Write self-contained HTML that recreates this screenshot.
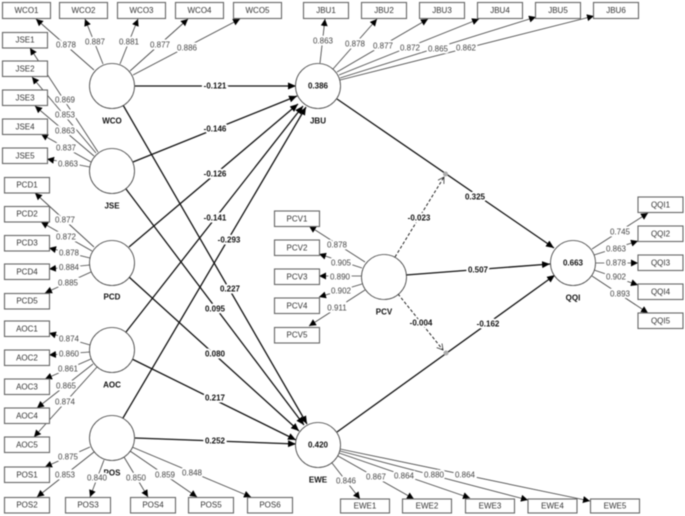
<!DOCTYPE html>
<html><head><meta charset="utf-8"><style>
html,body{margin:0;padding:0;background:#fff;width:685px;height:516px;overflow:hidden}
svg{display:block;filter:blur(.4px)}
text{font-family:"Liberation Sans",sans-serif;font-size:8px;text-anchor:middle;dominant-baseline:central}
.o line{stroke:#444;stroke-width:.85;marker-end:url(#a)}
.s line{stroke:#111;stroke-width:1.3;marker-end:url(#b)}
.d line{stroke:#222;stroke-width:1;stroke-dasharray:3 2;marker-end:url(#c)}
.r rect{fill:#fff;stroke:#666;stroke-width:1.1}
.r text{fill:#333}
circle{fill:#fff;stroke:#444;stroke-width:.85}
.l text{fill:#444;stroke:#fff;stroke-width:4;paint-order:stroke}
.p text{fill:#111;font-weight:bold;stroke:#fff;stroke-width:4;paint-order:stroke}
.n text{fill:#111;font-weight:bold}
</style></head><body>
<svg width="685" height="516" viewBox="0 0 685 516" xmlns="http://www.w3.org/2000/svg">
<defs>
<marker id="a" markerUnits="userSpaceOnUse" markerWidth="8" markerHeight="8" refX="7" refY="3.5" orient="auto"><path d="M0 0L7 3.500L0 7z" fill="#000"/></marker>
<marker id="b" markerUnits="userSpaceOnUse" markerWidth="9" markerHeight="8" refX="8" refY="3.5" orient="auto"><path d="M0 0L8 3.5L0 7z" fill="#000"/></marker>
<marker id="c" markerUnits="userSpaceOnUse" markerWidth="8" markerHeight="8" refX="6" refY="3.5" orient="auto"><path d="M0 0L6 3.5L0 7" fill="none" stroke="#333" stroke-width=".8"/></marker>
</defs>

<g class="o">
<line x1="94" y1="70" x2="36" y2="19"/><line x1="103" y1="64" x2="85" y2="19"/><line x1="120" y1="64" x2="138" y2="19"/><line x1="130" y1="71" x2="188" y2="19"/><line x1="133" y1="75" x2="240" y2="19"/>
<line x1="98" y1="152" x2="30" y2="48"/><line x1="96" y1="153" x2="32" y2="77"/><line x1="94" y1="156" x2="35" y2="106"/><line x1="91" y1="162" x2="41" y2="134"/><line x1="90" y1="167" x2="47" y2="159"/>
<line x1="94" y1="247" x2="35" y2="193"/><line x1="92" y1="251" x2="41" y2="222"/><line x1="90" y1="258" x2="49" y2="248"/><line x1="90" y1="265" x2="49" y2="269"/><line x1="91" y1="272" x2="45" y2="293"/>
<line x1="90" y1="345" x2="49" y2="333"/><line x1="90" y1="352" x2="49" y2="355"/><line x1="91" y1="359" x2="45" y2="379"/><line x1="93" y1="364" x2="37" y2="408"/><line x1="97" y1="367" x2="34" y2="437"/>
<line x1="90" y1="447" x2="45" y2="467"/><line x1="94" y1="452" x2="37" y2="497"/><line x1="104" y1="460" x2="90" y2="497"/><line x1="124" y1="457" x2="148" y2="497"/><line x1="130" y1="451" x2="197" y2="497"/><line x1="132" y1="447" x2="251" y2="497"/>
<line x1="320" y1="63" x2="325" y2="19"/><line x1="333" y1="69" x2="377" y2="19"/><line x1="337" y1="72" x2="428" y2="19"/><line x1="339" y1="75" x2="479" y2="19"/><line x1="340" y1="78" x2="536" y2="17"/><line x1="340" y1="80" x2="594" y2="16"/>
<line x1="332" y1="463" x2="360" y2="499"/><line x1="338" y1="456" x2="414" y2="499"/><line x1="339" y1="453" x2="470" y2="498"/><line x1="340" y1="451" x2="528" y2="500"/><line x1="340" y1="449" x2="590" y2="501"/>
<line x1="365" y1="262" x2="309" y2="226"/><line x1="362" y1="268" x2="319" y2="254"/><line x1="361" y1="276" x2="319" y2="276"/><line x1="362" y1="284" x2="319" y2="297"/><line x1="365" y1="290" x2="309" y2="326"/>
<line x1="592" y1="249" x2="648" y2="213"/><line x1="594" y1="255" x2="638" y2="241"/><line x1="596" y1="263" x2="638" y2="263"/><line x1="594" y1="270" x2="638" y2="285"/><line x1="592" y1="276" x2="648" y2="313"/>
</g>

<g class="s">
<line x1="135" y1="86" x2="296" y2="86"/><line x1="133" y1="162" x2="297" y2="96"/><line x1="129" y1="247" x2="298" y2="104"/><line x1="126" y1="332" x2="303" y2="106"/><line x1="123" y1="418" x2="306" y2="107"/>
<line x1="123" y1="105" x2="307" y2="424"/><line x1="126" y1="189" x2="304" y2="425"/><line x1="129" y1="277" x2="299" y2="431"/><line x1="132" y1="359" x2="296" y2="440"/><line x1="135" y1="438" x2="296" y2="444"/>
<line x1="337" y1="99" x2="554" y2="248"/><line x1="406" y1="275" x2="550" y2="264"/><line x1="337" y1="432" x2="555" y2="275"/>
</g>

<circle cx="445.5" cy="174" r="2.5" style="fill:#aaa;stroke:none"/>
<circle cx="446" cy="353" r="2.5" style="fill:#aaa;stroke:none"/>
<g class="d">
<line x1="395" y1="257" x2="444" y2="177"/><line x1="398" y1="294" x2="443" y2="350"/>
</g>

<g class="r">
<rect x="2.5" y="2.5" width="48" height="16"/><text x="26.500" y="10.500">WCO1</text>
<rect x="59.5" y="2.5" width="48" height="16"/><text x="83.500" y="10.500">WCO2</text>
<rect x="117.5" y="2.5" width="48" height="16"/><text x="141.500" y="10.500">WCO3</text>
<rect x="175.5" y="2.5" width="48" height="16"/><text x="199.500" y="10.500">WCO4</text>
<rect x="233.5" y="2.5" width="48" height="16"/><text x="257.500" y="10.500">WCO5</text>
<rect x="2.5" y="32.5" width="45" height="15.500"/><text x="25" y="40">JSE1</text>
<rect x="2.5" y="61" width="45" height="15.500"/><text x="25" y="69">JSE2</text>
<rect x="2.5" y="90" width="45" height="15.500"/><text x="25" y="98">JSE3</text>
<rect x="2.5" y="119" width="45" height="15.500"/><text x="25" y="127">JSE4</text>
<rect x="2.5" y="148" width="45" height="15.500"/><text x="25" y="156">JSE5</text>
<rect x="4.5" y="177.500" width="45" height="15.500"/><text x="27" y="185">PCD1</text>
<rect x="4.5" y="206.500" width="45" height="15.500"/><text x="27" y="214">PCD2</text>
<rect x="4.5" y="235.500" width="45" height="15.500"/><text x="27" y="243">PCD3</text>
<rect x="4.5" y="264" width="45" height="15.500"/><text x="27" y="272">PCD4</text>
<rect x="4.5" y="293.500" width="45" height="15.500"/><text x="27" y="301">PCD5</text>
<rect x="4.5" y="321" width="45" height="15.500"/><text x="27" y="329">AOC1</text>
<rect x="4.5" y="350" width="45" height="15.500"/><text x="27" y="358">AOC2</text>
<rect x="4.5" y="379" width="45" height="15.500"/><text x="27" y="387">AOC3</text>
<rect x="4.5" y="408" width="45" height="15.500"/><text x="27" y="416">AOC4</text>
<rect x="4.5" y="437" width="45" height="15.500"/><text x="27" y="445">AOC5</text>
<rect x="4.5" y="467" width="45" height="15.500"/><text x="27" y="475">POS1</text>
<rect x="4.5" y="497.500" width="45" height="15.500"/><text x="27" y="505">POS2</text>
<rect x="65.5" y="497.500" width="45" height="15.500"/><text x="88" y="505">POS3</text>
<rect x="130.5" y="497.500" width="45" height="15.500"/><text x="153" y="505">POS4</text>
<rect x="188.5" y="497.500" width="45" height="15.500"/><text x="211" y="505">POS5</text>
<rect x="247.5" y="497.500" width="45" height="15.500"/><text x="270" y="505">POS6</text>
<rect x="303.5" y="2.5" width="45" height="16"/><text x="326" y="10.500">JBU1</text>
<rect x="361.5" y="2.5" width="45" height="16"/><text x="384" y="10.500">JBU2</text>
<rect x="419.5" y="2.5" width="45" height="16"/><text x="442" y="10.500">JBU3</text>
<rect x="477.5" y="2.5" width="45" height="16"/><text x="500" y="10.500">JBU4</text>
<rect x="535.5" y="2.5" width="45" height="16"/><text x="558" y="10.500">JBU5</text>
<rect x="593.5" y="2.5" width="45" height="16"/><text x="616" y="10.500">JBU6</text>
<rect x="274.5" y="211" width="45" height="15.500"/><text x="297" y="219">PCV1</text>
<rect x="274.5" y="240" width="45" height="15.500"/><text x="297" y="248">PCV2</text>
<rect x="274.5" y="269" width="45" height="15.500"/><text x="297" y="277">PCV3</text>
<rect x="274.5" y="298" width="45" height="15.500"/><text x="297" y="306">PCV4</text>
<rect x="274.5" y="327.500" width="45" height="15.500"/><text x="297" y="335">PCV5</text>
<rect x="638" y="197" width="45" height="15.500"/><text x="660.500" y="205">QQI1</text>
<rect x="638" y="226" width="45" height="15.500"/><text x="660.500" y="234">QQI2</text>
<rect x="638" y="255" width="45" height="15.500"/><text x="660.500" y="263">QQI3</text>
<rect x="638" y="284" width="45" height="15.500"/><text x="660.500" y="292">QQI4</text>
<rect x="638" y="313" width="45" height="15.500"/><text x="660.500" y="321">QQI5</text>
<rect x="340.5" y="499" width="49" height="14"/><text x="365" y="506">EWE1</text>
<rect x="402.5" y="499" width="49" height="14"/><text x="427" y="506">EWE2</text>
<rect x="465.5" y="499" width="49" height="14"/><text x="490" y="506">EWE3</text>
<rect x="528" y="499" width="49" height="14"/><text x="552.500" y="506">EWE4</text>
<rect x="590.5" y="499" width="49" height="14"/><text x="615" y="506">EWE5</text>
</g>

<g class="n">
<text x="112" y="121">WCO</text><text x="112" y="206">JSE</text><text x="112" y="297">PCD</text><text x="112" y="385">AOC</text><text x="112" y="473">POS</text>
<text x="318" y="121">JBU</text><text x="318" y="480">EWE</text><text x="384" y="312">PCV</text><text x="573" y="298">QQI</text>
</g>

<g class="l">
<text x="66" y="45">0.878</text><text x="95" y="42">0.887</text><text x="129" y="42">0.881</text><text x="160" y="45">0.877</text><text x="187" y="48">0.886</text>
<text x="65" y="100">0.869</text><text x="65" y="115">0.853</text><text x="65" y="131">0.863</text><text x="66" y="148">0.837</text><text x="68" y="164">0.863</text>
<text x="65" y="220">0.877</text><text x="66" y="237">0.872</text><text x="69" y="253">0.878</text><text x="69" y="267.500">0.884</text><text x="68" y="283">0.885</text>
<text x="69" y="339">0.874</text><text x="69" y="354">0.860</text><text x="68" y="369">0.861</text><text x="66" y="386">0.865</text><text x="65" y="402">0.874</text>
<text x="68" y="457">0.875</text><text x="65" y="475">0.853</text><text x="97" y="478">0.840</text><text x="136" y="478">0.850</text><text x="165" y="475">0.859</text><text x="192" y="473">0.848</text>
<text x="323" y="41">0.863</text><text x="355" y="44">0.878</text><text x="383" y="46">0.877</text><text x="410" y="48">0.872</text><text x="438" y="49">0.865</text><text x="466" y="48">0.862</text>
<text x="346" y="481">0.846</text><text x="376" y="477">0.867</text><text x="404" y="476">0.864</text><text x="434" y="475">0.880</text><text x="465" y="475">0.864</text>
<text x="337" y="245">0.878</text><text x="341" y="263">0.905</text><text x="340" y="277">0.890</text><text x="341" y="291">0.902</text><text x="337" y="308">0.911</text>
<text x="620" y="232">0.745</text><text x="616" y="249">0.863</text><text x="616" y="263">0.878</text><text x="616" y="277">0.902</text><text x="620" y="294">0.893</text>
</g>

<g class="p">
<text x="215" y="86">-0.121</text><text x="215" y="129">-0.146</text><text x="215" y="174">-0.126</text><text x="215" y="218">-0.141</text><text x="229" y="240">-0.293</text>
<text x="230" y="289">0.227</text><text x="215" y="309">0.095</text><text x="215" y="354">0.080</text><text x="215" y="398">0.217</text><text x="215" y="441">0.252</text>
<text x="475" y="197">0.325</text><text x="478" y="270">0.507</text><text x="488" y="324">-0.162</text><text x="419" y="218">-0.023</text><text x="421" y="323">-0.004</text>
</g>

<circle cx="112" cy="86" r="22.500"/><circle cx="112" cy="171" r="22.500"/><circle cx="112" cy="263" r="22.500"/><circle cx="112" cy="350" r="22.500"/><circle cx="112" cy="438" r="22.500"/>
<circle cx="318" cy="86" r="22.500"/><circle cx="318" cy="445" r="22.500"/><circle cx="384" cy="277" r="22.500"/><circle cx="573" cy="263" r="22.500"/>

<g class="n">
<text x="318" y="86">0.386</text><text x="318" y="445">0.420</text><text x="573" y="263">0.663</text>
</g>
</svg>
</body></html>
